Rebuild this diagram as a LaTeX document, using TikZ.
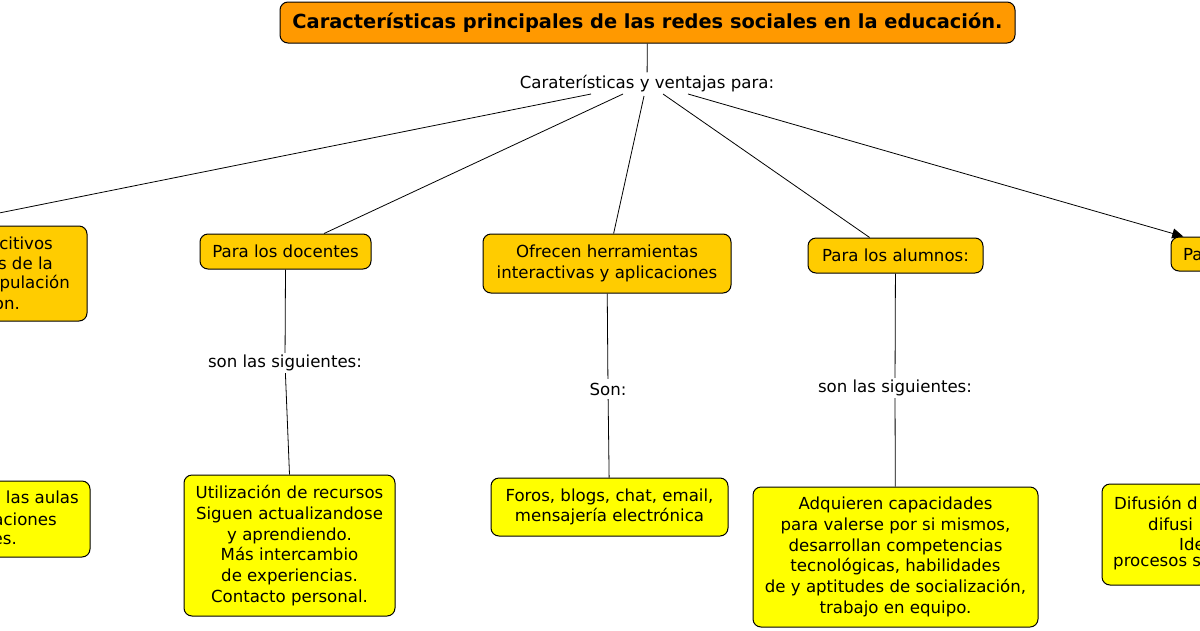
\documentclass[tikz,border=0pt]{standalone}
\usepackage{fontspec}
\setmainfont{DejaVu Sans}
\usetikzlibrary{calc,arrows.meta}
\definecolor{titleorange}{RGB}{255,153,0}
\definecolor{conceptgold}{RGB}{255,204,0}
\definecolor{leafyellow}{RGB}{255,255,0}
\tikzset{
  concept/.style={draw=black, line width=1pt, rounded corners=8pt, fill=conceptgold, align=center, inner sep=0pt, font=\fontsize{16.6}{20.7}\selectfont},
  leaf/.style={concept, fill=leafyellow},
  titlebox/.style={concept, fill=titleorange, font=\fontsize{19.4}{22}\bfseries},
  linklabel/.style={fill=white, inner sep=0pt, font=\fontsize{16.6}{20.7}\selectfont},
  frag/.style={inner sep=0pt, font=\fontsize{16.6}{20.7}\selectfont},
  conn/.style={draw=black, line width=0.8pt},
}
\begin{document}
\begin{tikzpicture}[x=1pt,y=-1pt]
\useasboundingbox (0,0) rectangle (1200,630);
\clip (0,0) rectangle (1200,630);
\fill[white] (0,0) rectangle (1200,630);

% title
\node[titlebox, minimum width=735pt, minimum height=41pt] (title) at (647.5,22.5) {Características principales de las redes sociales en la educación.};
\node[linklabel, minimum height=22pt] (lab) at (647,83.5) {Caraterísticas y ventajas para:};

% upper concepts
\node[concept, minimum width=300pt, minimum height=95pt] (lt) at (-63,273.5) {};
\node[concept, minimum width=171pt, minimum height=35pt] (doc) at (285.5,251.5) {Para los docentes};
\node[concept, minimum width=248pt, minimum height=59pt] (herr) at (607,263.5) {Ofrecen herramientas\\interactivas y aplicaciones};
\node[concept, minimum width=175pt, minimum height=35pt] (alu) at (895.5,255.5) {Para los alumnos:};
\node[concept, minimum width=146pt, minimum height=34pt] (rt) at (1244,254) {};

% link labels
\node[linklabel, minimum height=20pt] (l1) at (285,363) {son las siguientes:};
\node[linklabel, minimum height=20pt] (l2) at (608,389) {Son:};
\node[linklabel, minimum height=20pt] (l3) at (895,388) {son las siguientes:};

% lower leaves
\node[leaf, minimum width=300pt, minimum height=76pt] (lb) at (-60,519) {};
\node[leaf, minimum width=211pt, minimum height=141pt] (util) at (289.5,545.5) {Utilización de recursos\\Siguen actualizandose\\y aprendiendo.\\Más intercambio\\de experiencias.\\Contacto personal.};
\node[leaf, minimum width=237pt, minimum height=58pt] (foros) at (609.5,507) {Foros, blogs, chat, email,\\mensajería electrónica};
\node[leaf, minimum width=285pt, minimum height=140pt] (adq) at (895.5,557) {Adquieren capacidades\\para valerse por si mismos,\\desarrollan competencias\\tecnológicas, habilidades\\de y aptitudes de socialización,\\trabajo en equipo.};
\node[leaf, minimum width=296pt, minimum height=101pt] (rb) at (1250,534.5) {};

% visible fragments of cut-off boxes
\node[frag, anchor=east] (lt1) at (53,243) {citivos};
\node[frag, anchor=east] (lt2) at (53,263) {s de la};
\node[frag, anchor=east] (lt3) at (70,284) {pulación};
\node[frag, anchor=east] (lt4) at (20,305) {on.};
\node[frag, anchor=east] (lb1) at (79,497) {las aulas};
\node[frag, anchor=east] (lb2) at (57,519) {aciones};
\node[frag, anchor=east] (lb3) at (17,540) {es.};
\node[frag, anchor=west] (rt1) at (1183,255) {Pa};
\node[frag, anchor=west] (rb1) at (1114,503) {Difusión d};
\node[frag, anchor=west] (rb2) at (1148,524) {difusi};
\node[frag, anchor=west] (rb3) at (1179,544) {Ide};
\node[frag, anchor=west] (rb4) at (1113,564) {procesos s};

% connectors
\draw[conn] (title) -- (lab);
\coordinate (s1) at (591,94);
\coordinate (s2) at (623,94);
\coordinate (s3) at (644,96);
\coordinate (s4) at (663,94);
\coordinate (s5) at (688,94);
\draw[conn] (s1) -- (lt.north);
\draw[conn] (s2) -- (doc);
\draw[conn] (s3) -- (herr);
\draw[conn] (s4) -- (alu);
\draw[conn, -{Triangle[length=11pt,width=10pt]}] (s5) -- (rt);

\draw[conn] (doc.south) -- (l1);
\draw[conn] (l1) -- (util.north);
\draw[conn] (herr) -- (l2);
\draw[conn] (l2) -- (foros);
\draw[conn] (alu) -- (l3);
\draw[conn] (l3) -- (adq);
\end{tikzpicture}
\end{document}
